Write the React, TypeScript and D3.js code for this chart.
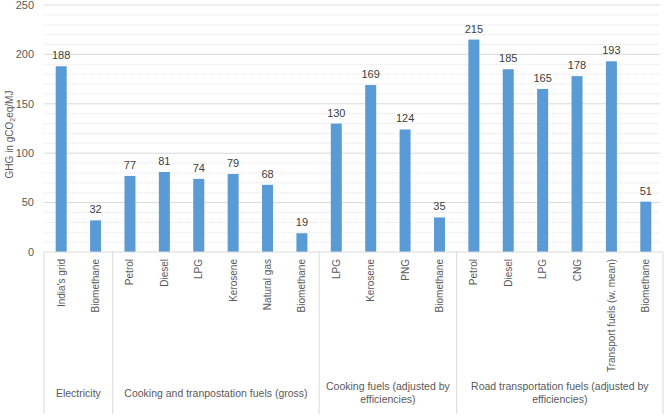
import * as d3 from "d3";

const groups = [
  "Electricity",
  "Cooking and tranpostation fuels (gross)",
  "Cooking fuels (adjusted by|efficiencies)",
  "Road transportation fuels (adjusted by|efficiencies)",
];
const fuels = [
  "India's grid", "Biomethane",
  "Petrol", "Diesel", "LPG", "Kerosene", "Natural gas", "Biomethane",
  "LPG", "Kerosene", "PNG", "Biomethane",
  "Petrol", "Diesel", "LPG", "CNG", "Transport fuels (w. mean)", "Biomethane",
];
const groupOf = [0, 0, 1, 1, 1, 1, 1, 1, 2, 2, 2, 2, 3, 3, 3, 3, 3, 3];
const ghg = [188, 32, 77, 81, 74, 79, 68, 19, 130, 169, 124, 35, 215, 185, 165, 178, 193, 51];
const yTicks = [0, 50, 100, 150, 200, 250];

const W = 666;
const H = 417;
const m = { top: 5, right: 3, bottom: 165, left: 44 };
const font = "'Liberation Sans', Arial, sans-serif";
const txt = "#595959";

const App = () => {
  const idx = fuels.map((_, i) => i);
  const x = d3
    .scaleBand<number>()
    .domain(idx)
    .range([m.left, W - m.right])
    .paddingInner(0.68)
    .paddingOuter(0.34);
  const step = x.step();
  const x0 = m.left;
  const y = d3
    .scaleLinear()
    .domain([0, 250])
    .range([H - m.bottom, m.top]);
  const minor = d3.range(10, 250, 10).filter((v) => v % 50 !== 0);

  // group spans
  const spans = groups.map((g, gi) => {
    const members = idx.filter((i) => groupOf[i] === gi);
    return { label: g, start: members[0], end: members[members.length - 1] + 1 };
  });
  const bandStart = (i: number) => x0 + i * step;

  return (
    <svg width={W} height={H} style={{ position: "absolute", left: 0, top: 0, background: "#fff" }}>
      <rect width={W} height={H} fill="#fff" />
      {minor.map((v) => (
        <line key={"m" + v} x1={m.left} x2={W - m.right - 3} y1={y(v)} y2={y(v)}
          stroke="#e4e4e4" strokeWidth={1} strokeDasharray="1 1" />
      ))}
      {yTicks.map((v) => (
        <g key={v}>
          {v > 0 && (
            <line x1={m.left} x2={W - m.right - 3} y1={y(v)} y2={y(v)} stroke="#d9d9d9" strokeWidth={1} />
          )}
          <text x={34} y={y(v)} dy="0.35em" textAnchor="end" fontFamily={font} fontSize={11} fill={txt}>
            {v}
          </text>
        </g>
      ))}
      <text transform={`translate(13,${(y(0) + y(250)) / 2 + 6}) rotate(-90)`} textAnchor="middle"
        fontFamily={font} fontSize={10} fill={txt}>
        GHG in gCO<tspan fontSize={7} dy={2}>2</tspan><tspan dy={-2}>eq/MJ</tspan>
      </text>

      {idx.map((i) => (
        <g key={"b" + i}>
          <rect x={x(i)} y={y(ghg[i])} width={x.bandwidth()} height={y(0) - y(ghg[i])} fill="#5b9bd5" />
          <text x={x(i)! + x.bandwidth() / 2} y={y(ghg[i]) - 7} textAnchor="middle"
            fontFamily={font} fontSize={11} fill="#404040">
            {ghg[i]}
          </text>
          <text transform={`translate(${x(i)! + x.bandwidth() / 2},259) rotate(-90)`} dy="0.35em"
            textAnchor="end" fontFamily={font} fontSize={10} fill={txt}>
            {fuels[i]}
          </text>
        </g>
      ))}

      <line x1={m.left} x2={W - m.right} y1={y(0)} y2={y(0)} stroke="#d9d9d9" />
      {[0, ...spans.map((s) => s.end)].map((b, k) => (
        <line key={"s" + k} x1={bandStart(b)} x2={bandStart(b)} y1={y(0)} y2={414} stroke="#d9d9d9" />
      ))}
      {spans.map((s) => {
        const cx = (bandStart(s.start) + bandStart(s.end)) / 2;
        const lines = s.label.split("|");
        const top = lines.length === 1 ? 393 : 386;
        return (
          <text key={s.label} x={cx} y={top} textAnchor="middle" dy="0.35em"
            fontFamily={font} fontSize={10.5} fill={txt}>
            {lines.map((l, li) => (
              <tspan key={li} x={cx} dy={li === 0 ? "0.35em" : 13}>{l}</tspan>
            ))}
          </text>
        );
      })}
    </svg>
  );
};

export default App;
